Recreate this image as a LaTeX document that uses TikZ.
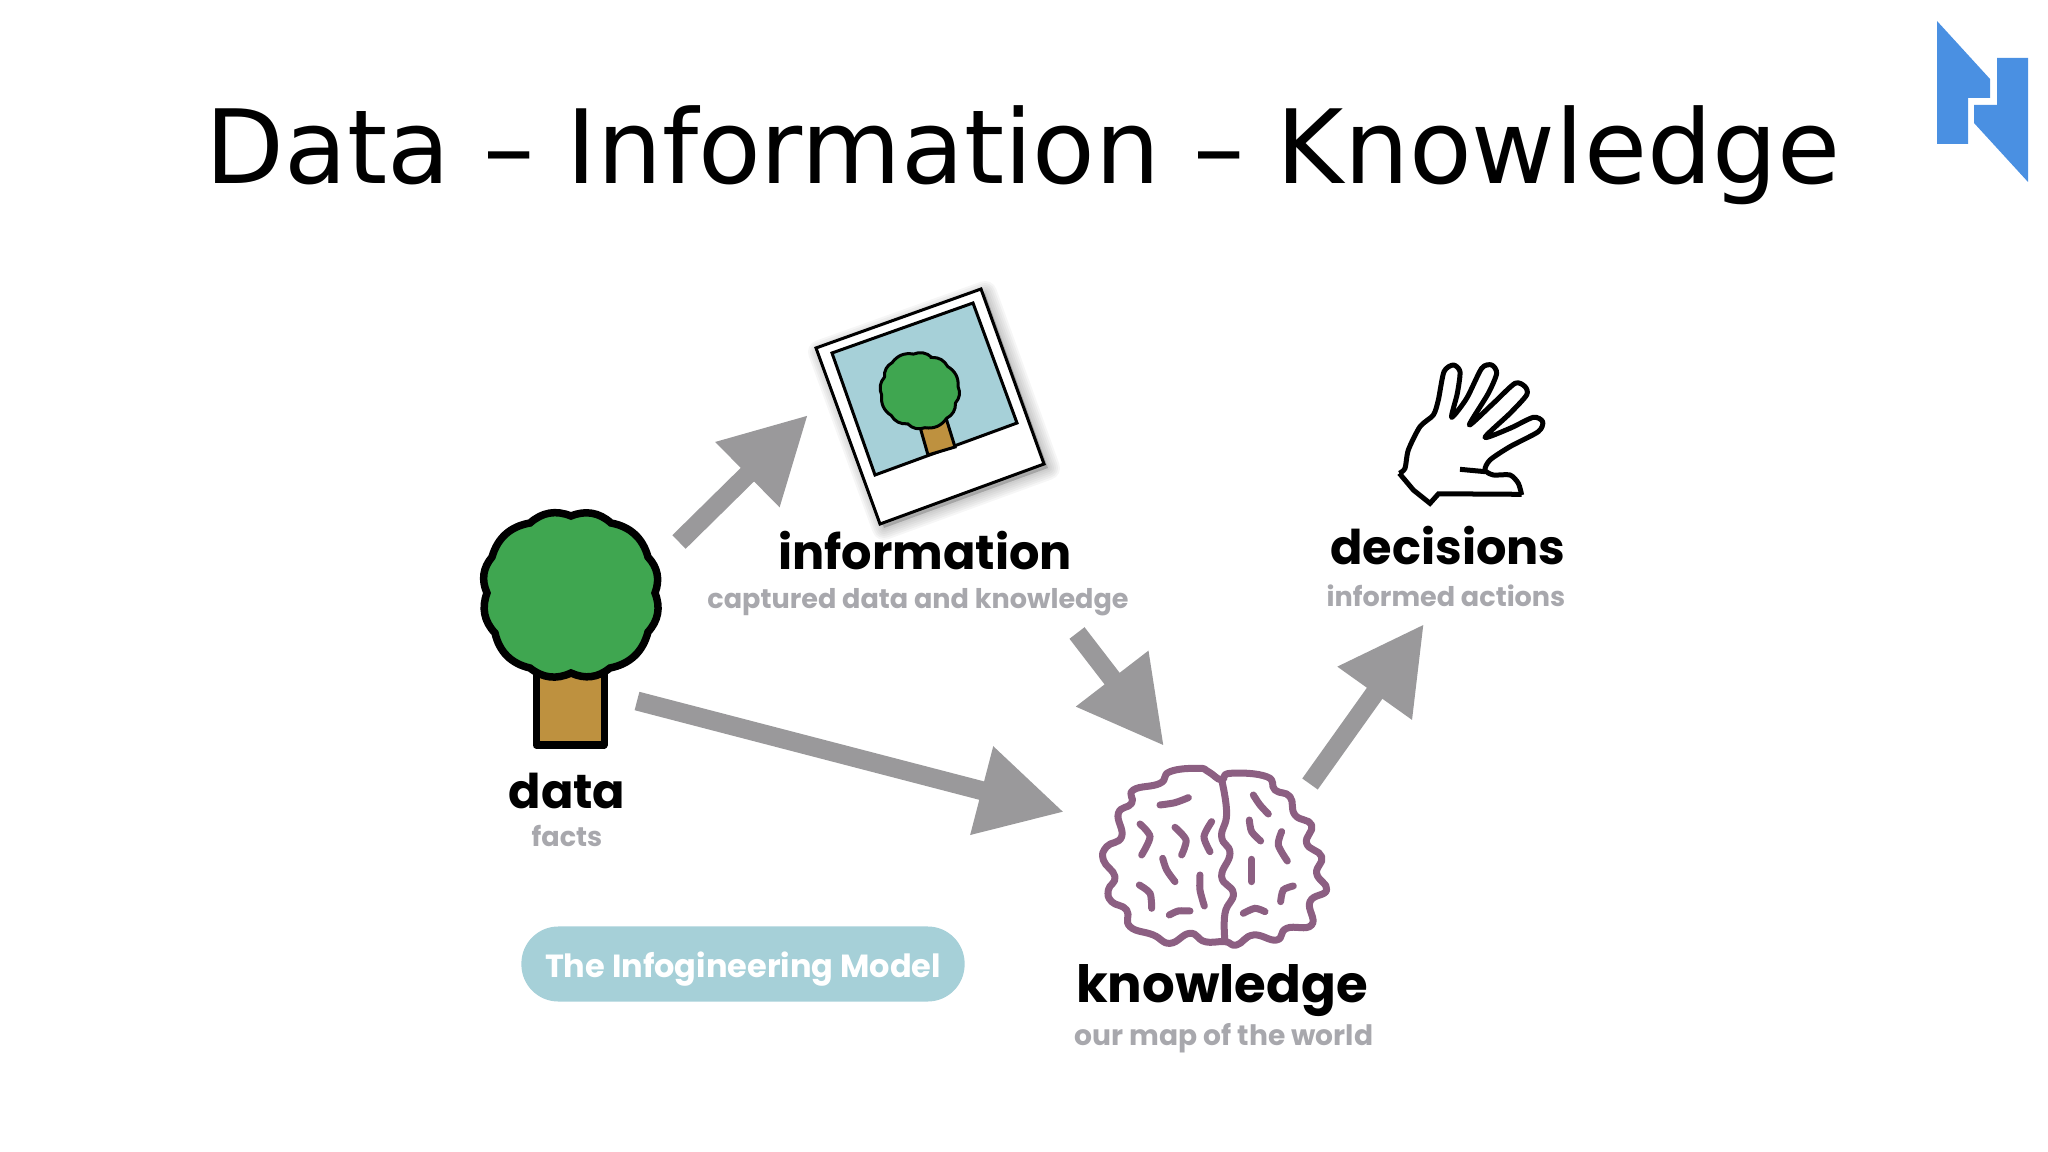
\documentclass[tikz,border=0pt]{standalone}
\usepackage{fontspec}
\usepackage{tikz}
\usetikzlibrary{arrows.meta}
\setmainfont{DejaVu Sans}
\newfontfamily\labelfont{Poppins}
\definecolor{green1}{HTML}{3FA650}
\definecolor{brown1}{HTML}{BE913F}
\definecolor{blue1}{HTML}{4A90E2}
\definecolor{blue2}{HTML}{A6D0D8}
\definecolor{gray1}{HTML}{9A999B}
\definecolor{gray2}{HTML}{A8A8AD}
\definecolor{plum1}{HTML}{8C5F82}
\tikzset{
  flowarrow/.style={draw=gray1, line width=0.19cm, -{Triangle[length=0.85cm,width=0.86cm]}},
  titlelabel/.style={font=\labelfont\bfseries\fontsize{13.6}{16}\selectfont, black},
  sublabel/.style={font=\labelfont\bfseries\fontsize{7.7}{9}\selectfont, gray2},
  crease/.style={draw=plum1, line width=0.07cm, line cap=round}
}
\newcommand{\crownshape}{(0,-77) to[bend left=32] (40,-70) to[bend left=32] (77,-36) to[bend left=32] (84,0) to[bend left=32] (77,39) to[bend left=32] (39,75) to[bend left=32] (0,80) to[bend left=32] (-41,75) to[bend left=32] (-76,40) to[bend left=32] (-84,0) to[bend left=32] (-79,-36) to[bend left=32] (-41,-70) to[bend left=32] cycle}
\begin{document}
\begin{tikzpicture}[x=0.01cm,y=-0.01cm]
\useasboundingbox (0,0) rectangle (2048,1152);
\node (title) at (1023,155) {\fontsize{29.15}{35}\selectfont Data -- Information -- Knowledge};

\fill[color=blue1] (1937,21) -- (1990,79) -- (1990,98) -- (1968,98) -- (1968,144) -- (1937,144) -- cycle;
\fill[color=blue1] (1997,58) -- (2028,58) -- (2028,182) -- (1974,123) -- (1974,105) -- (1997,105) -- cycle;

\draw[fill=brown1, line width=0.07cm, line join=round] (536,660) rectangle (604,745);
\draw[fill=green1, line width=0.075cm, shift={(571,593)}] \crownshape;

\foreach \w in {4,8,12,16,20,24}
{
\draw[color=black, fill=black, opacity=0.035, line width=\w*0.01cm, line join=round] (820,352) -- (985,293) -- (1048,468) -- (884,528) -- cycle;
}
\draw[fill=white, line width=0.03cm] (816,348) -- (981,289) -- (1044,464) -- (880,524) -- cycle;
\draw[fill=blue2, line width=0.03cm] (832,353) -- (973,303) -- (1017,423) -- (875,475) -- cycle;
\draw[fill=brown1, line width=0.03cm] (920,427) -- (946,418) -- (955,447) -- (928,455) -- cycle;
\draw[fill=green1, line width=0.03cm, shift={(920,390)}, rotate=-20, scale=0.45] \crownshape;

\begin{scope}[shift={(1370,340)}, scale=0.3333]
\draw[line width=0.05cm, line join=round] plot[smooth, tension=0.45] coordinates {(88,400) (105,385) (115,330) (150,260) (190,225) (205,180) (222,95) (250,75) (270,95) (262,160) (245,232) (290,175) (335,85) (365,75) (380,100) (355,160) (298,255) (370,190) (435,130) (465,140) (470,165) (420,220) (345,292) (420,265) (490,232) (518,245) (505,275) (420,320) (360,360) (345,390) (370,405) (420,405) (445,430) (455,465)};
\draw[line width=0.05cm] (455,463) -- (300,462) -- (205,462) -- (180,490) -- (130,450) -- (88,400);
\draw[line width=0.05cm] (270,388) -- (345,395);
\end{scope}

\begin{scope}[shift={(1090,750)}, scale=0.3333]
\draw[color=plum1, line width=0.07cm, line join=round] plot[smooth cycle, tension=0.8] coordinates {(395,90) (355,65) (325,55) (240,65) (210,100) (130,120) (125,160) (85,190) (95,260) (50,290) (40,330) (75,380) (55,420) (65,455) (110,480) (120,530) (190,555) (240,580) (300,550) (345,575) (405,575) (440,585) (490,555) (560,570) (590,535) (665,525) (660,455) (710,420) (680,370) (695,320) (650,280) (665,225) (615,195) (600,140) (555,120) (530,80) (420,70)};
\draw[color=plum1, line width=0.07cm] plot[smooth, tension=0.8] coordinates {(395,90) (410,190) (395,260) (420,310) (395,380) (430,430) (405,490) (405,575)};
\draw[crease] plot[smooth] coordinates {(210,165) (255,158) (295,143)};
\draw[crease] plot[smooth] coordinates {(150,222) (180,260) (155,315)};
\draw[crease] plot[smooth] coordinates {(255,232) (288,270) (275,315)};
\draw[crease] plot[smooth] coordinates {(365,215) (342,260) (360,305)};
\draw[crease] plot[smooth] coordinates {(218,325) (230,360) (255,395)};
\draw[crease] plot[smooth] coordinates {(148,405) (180,430) (185,475)};
\draw[crease] plot[smooth] coordinates {(330,375) (330,420) (343,468)};
\draw[crease] plot[smooth] coordinates {(238,495) (265,483) (300,483)};
\draw[crease] plot[smooth] coordinates {(490,135) (510,165) (535,192)};
\draw[crease] plot[smooth] coordinates {(478,210) (485,245) (512,273)};
\draw[crease] plot[smooth] coordinates {(575,245) (565,285) (592,333)};
\draw[crease] plot[smooth] coordinates {(485,328) (485,395)};
\draw[crease] plot[smooth] coordinates {(610,408) (580,420) (572,455)};
\draw[crease] plot[smooth] coordinates {(460,490) (495,475) (525,485)};
\end{scope}

\node[titlelabel] (data) at (567,791) {data};
\node[sublabel] (facts) at (567,836) {facts};
\node[titlelabel] (information) at (925,551) {information};
\node[sublabel] (captured) at (918,602) {captured data and knowledge};
\node[titlelabel] (decisions) at (1448,546) {decisions};
\node[sublabel] (informed) at (1446,596) {informed actions};
\node[titlelabel, font=\labelfont\bfseries\fontsize{14.6}{17}\selectfont] (knowledge) at (1222,991) {knowledge};
\node[sublabel, font=\labelfont\bfseries\fontsize{8}{10}\selectfont] (map) at (1224,1038) {our map of the world};
\node[fill=blue2, rounded corners=0.37cm, minimum width=4.43cm, minimum height=0.75cm, text height=0.28cm, text depth=0.02cm, text=white, font=\labelfont\bfseries\fontsize{9.1}{11}\selectfont] (model) at (743,964) {The Infogineering Model};

\coordinate (treeout1) at (679,542);
\coordinate (photoin) at (808,415);
\coordinate (treeout2) at (637,701);
\coordinate (brainin1) at (1064,812);
\coordinate (photoout) at (1077,633);
\coordinate (brainin2) at (1164,746);
\coordinate (brainout) at (1310,784);
\coordinate (handin) at (1424,624);
\draw[flowarrow] (treeout1) -- (photoin);
\draw[flowarrow] (treeout2) -- (brainin1);
\draw[flowarrow] (photoout) -- (brainin2);
\draw[flowarrow] (brainout) -- (handin);
\end{tikzpicture}
\end{document}
